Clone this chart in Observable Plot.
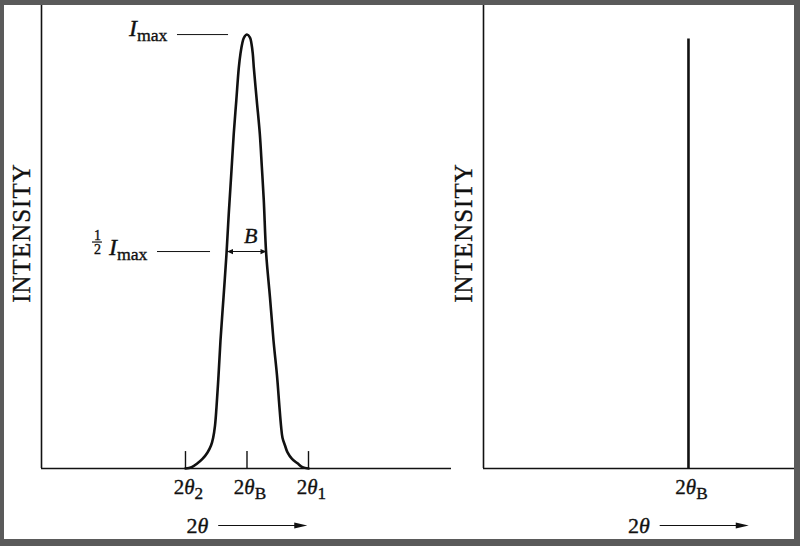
<!DOCTYPE html>
<html><head><meta charset="utf-8">
<script src="https://cdn.jsdelivr.net/npm/d3@7"></script>
<script src="https://cdn.jsdelivr.net/npm/@observablehq/plot@0.6"></script>
<style>
html,body{margin:0;padding:0;background:#fff;}
#wrap{position:relative;width:800px;height:546px;overflow:hidden;background:#fff;}
#wrap svg{position:absolute;top:0;}
#wrap svg text{stroke:#111;stroke-width:0.35px;}
#frame{position:absolute;left:0;top:0;width:800px;height:546px;box-sizing:border-box;border-style:solid;border-color:#5a5a5a;border-width:5px 6px 7px 4px;pointer-events:none;z-index:5;}
</style></head><body>
<div id="wrap"><div id="frame"></div></div>
<script>
// ---- data (2θ in units of the 2θB–2θ1 spacing, intensity relative to Imax) ----
const profileAngle = [-1.000,-0.902,-0.805,-0.724,-0.642,-0.585,-0.550,-0.520,-0.496,-0.463,-0.431,-0.382,-0.333,-0.296,-0.255,-0.215,-0.174,-0.133,-0.106,-0.078,-0.049,0.000,
  0.049,0.073,0.094,0.111,0.159,0.208,0.241,0.273,0.312,0.374,0.431,0.488,0.528,0.553,0.577,0.618,0.659,0.732,0.821,0.902,1.000];
const profileIntensity = [0,0.003,0.012,0.022,0.037,0.053,0.071,0.099,0.141,0.214,0.295,0.394,0.495,0.588,0.680,0.772,0.848,0.924,0.956,0.979,0.993,1.000,
  0.993,0.979,0.956,0.924,0.848,0.772,0.696,0.618,0.495,0.394,0.295,0.214,0.141,0.099,0.071,0.053,0.037,0.022,0.012,0.003,0];
const peakTicks = [-1, 0, 1];
const peakTickLabels = ["2θ_2", "2θ_B", "2θ_1"];
const fwhmAngles = [-0.325, 0.317];
const halfLevel = 0.5;
const maxLevel = 1;
const lineAngles = [0];
const lineIntensities = [0.99];
const lineTickLabels = ["2θ_B"];
const yLabel = "INTENSITY";
const xLabel = "2θ";
const maxLabel = "I_max";
const halfLabel = "I_max";
const halfNumerator = "1";
const halfDenominator = "2";
const widthLabel = "B";

const profile = profileAngle.map((a, i) => ({a, I: profileIntensity[i]}));
const spikes = lineAngles.map((a, i) => ({a, I: lineIntensities[i]}));

const font = "'Liberation Serif', 'Times New Roman', serif";
const ink = "#111";
const titleDy = 57;
const arrowFrom = -0.46, arrowTo = 0.98, titleEnd = -0.63;
const halfLeader = [-1.455, -0.593];
const maxLeader = [-1.13, -0.30];
const fracBar = [-2.512, -2.350];

function titleMarks() {
  return [
    Plot.text([xLabel], {x: titleEnd, y: 0, dy: titleDy, text: d => d, textAnchor: "end", fontSize: 22, fill: ink}),
    Plot.ruleY([0], {x1: arrowFrom, x2: arrowTo - 0.1, dy: titleDy, stroke: ink, strokeWidth: 1.2}),
    Plot.vector([arrowTo], {x: d => d, y: 0, dy: titleDy, rotate: 90, length: 13, r: 3, anchor: "end", shape: "spike", fill: ink, stroke: "none"}),
    Plot.text([yLabel], {frameAnchor: "left", text: d => d, rotate: -90, textAnchor: "middle", dx: -20, dy: -4, fontSize: 25, fill: ink})
  ];
}

const left = Plot.plot({
  width: 460, height: 546,
  marginLeft: 41, marginRight: 9, marginTop: 5, marginBottom: 78,
  x: {domain: [-3.341, 3.325], axis: null},
  y: {domain: [0, 1.067], axis: null},
  style: {fontFamily: font, background: "transparent", color: ink, overflow: "visible"},
  marks: [
    Plot.ruleY([0], {stroke: ink, strokeWidth: 1.6}),
    Plot.ruleX([-3.341], {stroke: ink, strokeWidth: 1.6}),
    Plot.ruleX(peakTicks, {x: d => d, y1: 0, y2: 0.039, stroke: ink, strokeWidth: 1.4}),
    Plot.line(profile, {x: "a", y: "I", curve: "catmull-rom", stroke: ink, strokeWidth: 2.6}),
    // leaders
    Plot.ruleY([maxLevel], {x1: maxLeader[0], x2: maxLeader[1], stroke: ink, strokeWidth: 1}),
    Plot.ruleY([halfLevel], {x1: halfLeader[0], x2: halfLeader[1], stroke: ink, strokeWidth: 1}),
    Plot.text([maxLabel], {x: maxLeader[0], y: maxLevel, text: d => d, textAnchor: "end", dx: -10, dy: -6, fontSize: 24, fill: ink}),
    Plot.text([halfLabel], {x: halfLeader[0], y: halfLevel, text: d => d, textAnchor: "end", dx: -10, dy: -4, fontSize: 24, fill: ink}),
    // stacked fraction 1/2
    Plot.text([halfNumerator], {x: (fracBar[0] + fracBar[1]) / 2, y: halfLevel, text: d => d, dy: -16, fontSize: 14, fill: ink}),
    Plot.text([halfDenominator], {x: (fracBar[0] + fracBar[1]) / 2, y: halfLevel, text: d => d, dy: -2, fontSize: 14, fill: ink}),
    Plot.ruleY([halfLevel], {x1: fracBar[0], x2: fracBar[1], dy: -9.5, stroke: ink, strokeWidth: 1.2}),
    // width B
    Plot.ruleY([halfLevel], {x1: fwhmAngles[0], x2: fwhmAngles[1], stroke: ink, strokeWidth: 1.1}),
    Plot.vector([fwhmAngles[0]], {x: d => d, y: halfLevel, rotate: -90, length: 6, r: 2.6, anchor: "end", shape: "spike", fill: ink, stroke: "none"}),
    Plot.vector([fwhmAngles[1]], {x: d => d, y: halfLevel, rotate: 90, length: 6, r: 2.6, anchor: "end", shape: "spike", fill: ink, stroke: "none"}),
    Plot.text([widthLabel], {x: (fwhmAngles[0] + fwhmAngles[1]) / 2, y: halfLevel, text: d => d, dx: 4, dy: -16, fontSize: 22, fill: ink}),
    // tick labels
    Plot.text(peakTicks, {x: d => d, y: 0, text: (d, i) => peakTickLabels[i], dx: 3, dy: 19, fontSize: 21, fill: ink}),
    ...titleMarks()
  ]
});

const right = Plot.plot({
  width: 360, height: 546,
  marginLeft: 43, marginRight: 6, marginTop: 5, marginBottom: 78,
  x: {domain: [-3.333, 1.724], axis: null},
  y: {domain: [0, 1.067], axis: null},
  style: {fontFamily: font, background: "transparent", color: ink, overflow: "visible"},
  marks: [
    Plot.ruleY([0], {stroke: ink, strokeWidth: 1.6}),
    Plot.ruleX([-3.333], {stroke: ink, strokeWidth: 1.6}),
    Plot.ruleX(spikes, {x: "a", y1: 0, y2: "I", stroke: ink, strokeWidth: 2.6}),
    Plot.text(lineAngles, {x: d => d, y: 0, text: (d, i) => lineTickLabels[i], dx: 3, dy: 19, fontSize: 21, fill: ink}),
    ...titleMarks()
  ]
});

const NS = "http://www.w3.org/2000/svg";
function rich(svg) {
  svg.querySelectorAll("text").forEach(t => {
    const s = t.textContent;
    if (s === yLabel) { t.setAttribute("letter-spacing", "1"); return; }
    if (!(s.includes("_") || s.includes("θ") || s === "B")) return;
    const [main, sub] = s.split("_");
    t.textContent = "";
    for (const ch of main) {
      const ts = document.createElementNS(NS, "tspan");
      if ("θIB".includes(ch)) ts.setAttribute("font-style", "italic");
      ts.textContent = ch;
      t.appendChild(ts);
    }
    if (sub) {
      const ts = document.createElementNS(NS, "tspan");
      ts.setAttribute("font-size", sub === "max" ? "74%" : "82%");
      ts.setAttribute("dy", "0.28em");
      ts.textContent = sub;
      t.appendChild(ts);
    }
  });
}
rich(left); rich(right);
left.style.left = "0px";
right.style.left = "440px";
const wrap = document.getElementById("wrap");
wrap.insertBefore(left, wrap.firstChild);
wrap.insertBefore(right, wrap.firstChild);
</script>
</body></html>
